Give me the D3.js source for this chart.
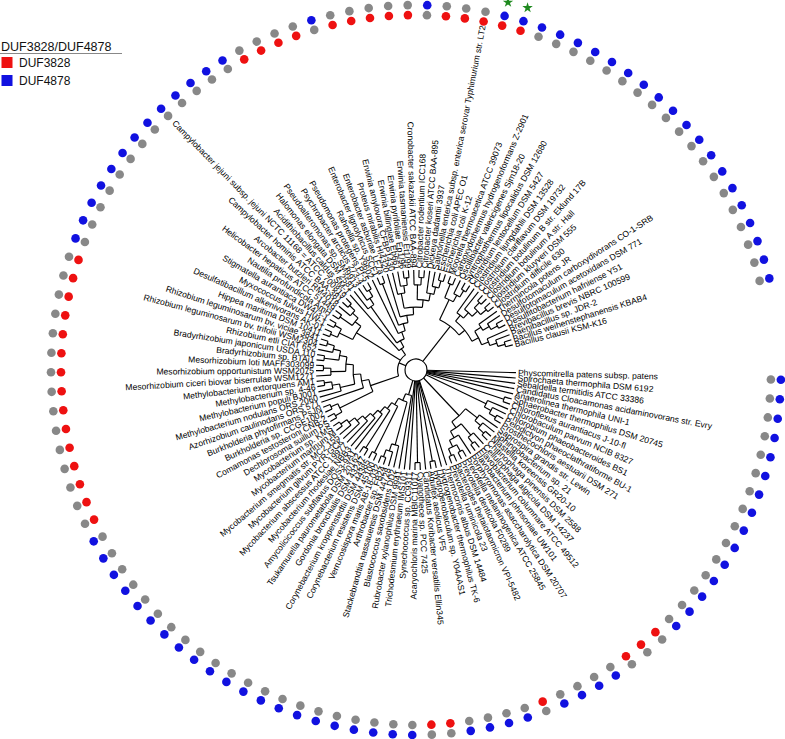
<!DOCTYPE html>
<html>
<head>
<meta charset="utf-8">
<script src="https://cdn.jsdelivr.net/npm/d3@7"></script>
<style>
body { margin: 0; background: #fff; }
text { font-family: Arial, "Liberation Sans", sans-serif; }
</style>
</head>
<body>
<div id="viz"></div>
<script>

// leaves, clockwise from the root branch (east)
var species = [
	"Physcomitrella patens subsp. patens",
	"Spirochaeta thermophila DSM 6192",
	"Sebaldella termitidis ATCC 33386",
	"Candidatus Cloacamonas acidaminovorans str. Evry",
	"Anaerolinea thermophila UNI-1",
	"Sphaerobacter thermophilus DSM 20745",
	"Chloroflexus aurantiacus J-10-fl",
	"Chlorobaculum parvum NCIB 8327",
	"Chlorobium phaeobacteroides BS1",
	"Pelodictyon phaeoclathratiforme BU-1",
	"Prosthecochloris aestuarii DSM 271",
	"Saprospira grandis str. Lewin",
	"Sphingobacterium sp. 21",
	"Niastella koreensis GR20-10",
	"Chitinophaga pinensis DSM 2588",
	"Cellulophaga algicola DSM 14237",
	"Flavobacterium columnare ATCC 49512",
	"Flavobacterium johnsoniae UW101",
	"Porphyromonas asaccharolytica DSM 20707",
	"Prevotella melaninogenica ATCC 25845",
	"Prevotella denticola F0289",
	"Bacteroides thetaiotaomicron VPI-5482",
	"Prevotella ruminicola 23",
	"Thermocrinis albus DSM 14484",
	"Hydrogenobacter thermophilus TK-6",
	"Hydrogenobaculum sp. Y04AAS1",
	"Aquifex aeolicus VF5",
	"Candidatus Koribacter versatilis Ellin345",
	"Cyanothece sp. PCC 7425",
	"Acaryochloris marina MBIC11017",
	"Synechococcus sp. CC9311",
	"Trichodesmium erythraeum IMS101",
	"Rubrobacter xylanophilus DSM 9941",
	"Blastococcus saxobsidens DD2",
	"Stackebrandtia nassauensis DSM 44728",
	"Arthrobacter sp. FB24",
	"Verrucosispora maris AB-18-032",
	"Corynebacterium resistens DSM 45100",
	"Corynebacterium kroppenstedtii DSM 44385",
	"Gordonia bronchialis DSM 43247",
	"Tsukamurella paurometabola DSM 20162",
	"Amycolicicoccus subflavus DQS3-9A1",
	"Mycobacterium rhodesiae NBB3",
	"Mycobacterium abscessus ATCC 19977",
	"Mycobacterium gilvum PYR-GCK",
	"Mycobacterium smegmatis str. MC2 155",
	"Mycobacterium marinum M",
	"Mycobacterium sp. KMS",
	"Dechlorosoma suillum PS",
	"Comamonas testosteroni CNB-2",
	"Burkholderia sp. CCGE1002",
	"Burkholderia phytofirmans PsJN",
	"Azorhizobium caulinodans ORS 571",
	"Methylobacterium nodulans ORS 2060",
	"Methylobacterium populi BJ001",
	"Methylobacterium sp. 4-46",
	"Methylobacterium extorquens AM1",
	"Mesorhizobium ciceri biovar biserrulae WSM1271",
	"Mesorhizobium opportunistum WSM2075",
	"Mesorhizobium loti MAFF303099",
	"Bradyrhizobium sp. BTAi1",
	"Bradyrhizobium japonicum USDA 110",
	"Rhizobium etli CIAT 652",
	"Rhizobium leguminosarum bv. trifolii WSM2304",
	"Rhizobium leguminosarum bv. viciae 3841",
	"Hippea maritima DSM 10411",
	"Desulfatibacillum alkenivorans AK-01",
	"Myxococcus fulvus HW-1",
	"Stigmatella aurantiaca DW4/3-1",
	"Nautilia profundicola AmH",
	"Helicobacter hepaticus ATCC 51449",
	"Arcobacter butzleri RM4018",
	"Campylobacter hominis ATCC BAA-381",
	"Campylobacter jejuni subsp. jejuni NCTC 11168 = ATCC 700819",
	"Acidithiobacillus caldus SM-1",
	"Halomonas elongata DSM 2581",
	"Pseudoalteromonas sp. SM9913",
	"Psychrobacter arcticus 273-4",
	"Pseudomonas protegens Pf-5",
	"Rahnella sp. Y9602",
	"Enterobacter lignolyticus SCF1",
	"Enterobacter asburiae LF7a",
	"Proteus mirabilis HI4320",
	"Erwinia amylovora CFBP1430",
	"Erwinia billingiae Eb661",
	"Erwinia pyrifoliae Ep1/96",
	"Erwinia tasmaniensis Et1/99",
	"Cronobacter sakazakii ATCC BAA-894",
	"Citrobacter rodentium ICC168",
	"Citrobacter koseri ATCC BAA-895",
	"Dickeya dadantii 3937",
	"Salmonella enterica subsp. enterica serovar Typhimurium str. LT2",
	"Escherichia coli APEC O1",
	"Escherichia coli K-12",
	"Moorella thermoacetica ATCC 39073",
	"Carboxydothermus hydrogenoformans Z-2901",
	"Oscillibacter valericigenes Sjm18-20",
	"Syntrophothermus lipocalidus DSM 12680",
	"Clostridium lentocellum DSM 5427",
	"Clostridium ljungdahlii DSM 13528",
	"Clostridium clariflavum DSM 19732",
	"Clostridium botulinum B str. Eklund 17B",
	"Clostridium botulinum A str. Hall",
	"Clostridium kluyveri DSM 555",
	"Clostridium difficile 630",
	"Thermincola potens JR",
	"Desulfotomaculum carboxydivorans CO-1-SRB",
	"Desulfotomaculum acetoxidans DSM 771",
	"Desulfitobacterium hafniense Y51",
	"Brevibacillus brevis NBRC 100599",
	"Paenibacillus sp. JDR-2",
	"Bacillus weihenstephanensis KBAB4",
	"Bacillus clausii KSM-K16"
];

// 1 = domain found, one entry per leaf (same order as species)
var duf3828 = [
	0,0,0,0,0,0,0,0,0,0,
	0,0,0,0,0,1,1,1,0,0,
	0,0,1,0,0,0,0,1,1,0,
	0,0,0,0,0,0,0,0,0,0,
	0,0,0,0,0,0,0,0,0,0,
	1,1,1,1,1,1,1,1,1,1,
	1,1,1,1,1,0,0,0,0,0,
	0,0,0,0,0,0,0,0,1,1,
	1,1,0,1,1,1,1,1,0,1,
	1,1,1,1,0,0,0,0,0,0,
	0,0,0,0,0,0,0,0,0,0,
	0,0,0
];
var duf4878 = [
	1,1,1,1,1,1,1,1,1,1,
	1,1,1,1,1,0,0,0,1,1,
	1,1,0,1,1,1,1,0,0,1,
	1,1,1,1,1,1,1,1,1,1,
	1,1,1,1,1,1,1,1,1,1,
	0,0,0,0,0,0,0,0,0,0,
	0,0,0,0,0,1,1,1,1,1,
	1,1,1,1,1,1,1,1,0,0,
	0,0,1,0,0,0,0,0,1,0,
	0,0,1,1,1,1,1,1,1,1,
	1,1,1,1,1,1,1,1,1,1,
	1,1,1
];
var starred = [93, 94];

// tree topology, leaf numbers refer to species (1-based)
var topology = [
	1, 2, 3, 4, 5, [6, 7],
	[8, [9, [10, 11]]],
	[[12, [13, [14, 15]]], [[16, [17, 18]], [19, [[20, 21], [22, 23]]]]],
	24, 25, [26, 27], 28, [29, 30], 31, 32,
	[33, [[34, [35, [36, 37]]], [[38, 39], [[40, 41], [42, [43, [44, [45, [46, [47, 48]]]]]]]]]],
	[[[[49, 50], [51, 52]],
	  [53, [[54, [55, [56, 57]]], [[58, [59, 60]], [[61, 62], [63, [64, 65]]]]]]],
	 [[[66, 67], [68, 69]], [[70, 71], [72, [73, 74]]]],
	 [75, [[76, [77, [78, 79]]], [80, [[81, 82], [83, [[84, [85, [86, 87]]], [[88, [89, 90]], [91, [92, [93, 94]]]]]]]]]]],
	[[[95, 96], [97, [98, 99]]],
	 [[100, [101, [[102, 103], [104, 105]]]],
	  [[106, [107, [108, 109]]], [110, [111, [112, 113]]]]]]
];

var legendTitle = "DUF3828/DUF4878";
var legendItems = ["DUF3828", "DUF4878"];

var viz = { width: 785, height: 739 };
var center = { x: 416, y: 370 };
var colors = { red: "#ee1111", blue: "#1111e0", grey: "#888888", star: "#1f8a1f" };

var svg = d3.select("#viz")
	.append("svg")
	.attr("width", viz.width)
	.attr("height", viz.height);

var g = svg.append("g")
	.attr("transform", "translate(" + center.x + "," + center.y + ")");

var root = d3.hierarchy(topology, function(d) { return Array.isArray(d) ? d : null; });
d3.cluster().size([347, 1]).separation(function() { return 1; })(root);

var rad = d3.scaleLinear().domain([0, 1]).range([11, 100]);
var toRad = function(deg) { return deg * Math.PI / 180; };
var polar = function(deg, r) { return [r * Math.cos(toRad(deg)), r * Math.sin(toRad(deg))]; };

var lineStyle = function(sel) {
	sel.attr("stroke", "#000").attr("stroke-width", 1.15).attr("fill", "none");
};

// tree: radial segments
g.append("g").selectAll("path.spoke")
	.data(root.links()).enter()
	.append("path")
	.attr("class", "spoke")
	.attr("d", function(l) {
		var a = polar(l.target.x, rad(l.source.y));
		var b = polar(l.target.x, rad(l.target.y));
		return "M" + a + "L" + b;
	})
	.call(lineStyle);

// tree: arcs joining children (root drawn as full circle)
g.append("g").selectAll("path.arc")
	.data(root.descendants().filter(function(d) { return d.children; })).enter()
	.append("path")
	.attr("class", "arc")
	.attr("d", function(d) {
		var xs = d.children.map(function(c) { return c.x; });
		var p = d3.path();
		var r = rad(d.y);
		var a0 = toRad(d3.min(xs)), a1 = d.depth ? toRad(d3.max(xs)) : a0 + 2 * Math.PI - 0.001;
		p.moveTo(r * Math.cos(a0), r * Math.sin(a0));
		p.arc(0, 0, r, a0, a1);
		return p.toString();
	})
	.call(lineStyle);

var leaves = root.leaves();

// labels
g.append("g").selectAll("text")
	.data(leaves).enter()
	.append("text")
	.attr("transform", function(d) {
		var flip = d.x > 90 && d.x < 270;
		return "rotate(" + d.x + ") translate(102,0)" + (flip ? " rotate(180)" : "");
	})
	.attr("text-anchor", function(d) { return d.x > 90 && d.x < 270 ? "end" : "start"; })
	.attr("dy", "0.34em")
	.attr("font-size", 8.6)
	.attr("fill", "#000")
	.text(function(d) { return species[d.data - 1]; });

// inner ring DUF3828, outer ring DUF4878
g.append("g").selectAll("circle.inner")
	.data(leaves).enter()
	.append("circle")
	.attr("class", "inner")
	.attr("cx", function(d) { return polar(d.x, 355)[0]; })
	.attr("cy", function(d) { return polar(d.x, 355)[1]; })
	.attr("r", 4.3)
	.attr("fill", function(d) { return duf3828[d.data - 1] ? colors.red : colors.grey; });

g.append("g").selectAll("circle.outer")
	.data(leaves).enter()
	.append("circle")
	.attr("class", "outer")
	.attr("cx", function(d) { return polar(d.x, 365)[0]; })
	.attr("cy", function(d) { return polar(d.x, 365)[1]; })
	.attr("r", 4.3)
	.attr("fill", function(d) { return duf4878[d.data - 1] ? colors.blue : colors.grey; });

g.append("g").selectAll("path.star")
	.data(leaves.filter(function(d) { return starred.indexOf(d.data) >= 0; })).enter()
	.append("path")
	.attr("class", "star")
	.attr("d", d3.symbol().type(d3.symbolStar).size(34))
	.attr("transform", function(d) { return "translate(" + polar(d.x, 379) + ")"; })
	.attr("fill", colors.star);

// legend
var legend = svg.append("g");
legend.append("text")
	.attr("x", 1).attr("y", 51)
	.attr("font-size", 12.5)
	.attr("fill", "#111")
	.text(legendTitle);
legend.append("line")
	.attr("x1", 0).attr("x2", 122).attr("y1", 53.5).attr("y2", 53.5)
	.attr("stroke", "#888").attr("stroke-width", 1);
legend.selectAll("rect")
	.data(legendItems).enter()
	.append("rect")
	.attr("x", 1.5)
	.attr("y", function(d, i) { return 57 + i * 18; })
	.attr("width", 11).attr("height", 11)
	.attr("fill", function(d, i) { return i ? colors.blue : colors.red; });
legend.selectAll("text.item")
	.data(legendItems).enter()
	.append("text")
	.attr("class", "item")
	.attr("x", 19)
	.attr("y", function(d, i) { return 66.5 + i * 18; })
	.attr("font-size", 12)
	.attr("fill", "#111")
	.text(function(d) { return d; });

</script>
</body>
</html>
